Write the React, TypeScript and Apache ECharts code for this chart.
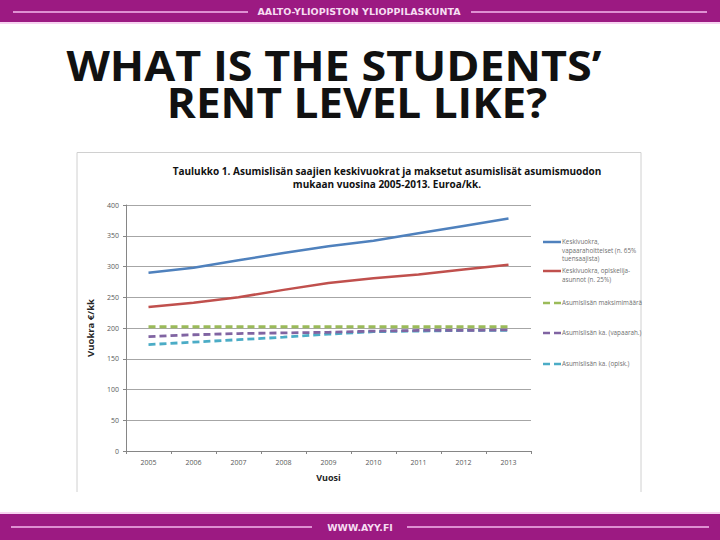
import React, { useEffect, useRef } from "react";
import * as echarts from "echarts";

const years = ["2005", "2006", "2007", "2008", "2009", "2010", "2011", "2012", "2013"];
const seriesNames = [
  "Keskivuokra, vapaarahoitteiset (n. 65% tuensaajista)",
  "Keskivuokra, opiskelija-asunnot (n. 25%)",
  "Asumislisän maksimimäärä",
  "Asumislisän ka. (vapaarah.)",
  "Asumislisän ka. (opisk.)",
];
const legendLabels = [
  "Keskivuokra,\nvapaarahoitteiset (n. 65%\ntuensaajista)",
  "Keskivuokra, opiskelija-\nasunnot (n. 25%)",
  "Asumislisän maksimimäärä",
  "Asumislisän ka. (vapaarah.)",
  "Asumislisän ka. (opisk.)",
];
const rentFree = [290, 298, 310, 322, 333, 342, 354, 366, 378];
const rentStudent = [234, 241, 250, 262, 273, 281, 287, 295, 303];
const maxAllowance = [202, 202, 202, 202, 202, 202, 202, 202, 202];
const avgAllowanceFree = [186, 189, 191, 192, 193, 195, 196, 196, 197];
const avgAllowanceStudent = [173, 177, 181, 185, 190, 194, 195, 196, 196];
const colors = ["#4F81BD", "#C0504D", "#9BBB59", "#8064A2", "#4BACC6"];
const dashed = [false, false, true, true, true];
const yTicks = { min: 0, max: 400, interval: 50 };

const PURPLE = "#9C1A82";
const PINK = "#F4B8EC";

export default function App() {
  const ref = useRef<HTMLDivElement>(null);
  useEffect(() => {
    if (!ref.current) return;
    const chart = echarts.init(ref.current, null, { renderer: "svg" });
    const values = [rentFree, rentStudent, maxAllowance, avgAllowanceFree, avgAllowanceStudent];
    const legendY = [242, 271, 303, 333, 364];
    const legendGraphics: any[] = [];
    legendLabels.forEach((label, i) => {
      const y = legendY[i];
      legendGraphics.push({
        type: "line",
        shape: { x1: 543, y1: y, x2: 561, y2: y },
        style: {
          stroke: colors[i],
          lineWidth: 2.5,
          lineDash: dashed[i] ? [7, 4] : null,
        },
      });
      legendGraphics.push({
        type: "text",
        x: 562,
        y: y - 4.5,
        style: {
          text: label,
          fill: "#6F6F6F",
          font: "6.3px 'Open Sans'",
          lineHeight: 8.5,
          textVerticalAlign: "top",
        },
      });
    });

    chart.setOption({
      animation: false,
      backgroundColor: "#ffffff",
      grid: { left: 126, right: 189, top: 205, bottom: 89, containLabel: false },
      xAxis: {
        type: "category",
        data: years,
        boundaryGap: true,
        name: "Vuosi",
        nameLocation: "middle",
        nameGap: 22,
        nameTextStyle: { fontFamily: "Open Sans", fontWeight: "bold", fontSize: 9, color: "#262626" },
        axisLine: { lineStyle: { color: "#868686", width: 1 } },
        axisTick: { show: true, length: 3, lineStyle: { color: "#868686" } },
        axisLabel: { fontFamily: "Open Sans", fontSize: 7, color: "#595959", margin: 8 },
      },
      yAxis: {
        type: "value",
        min: yTicks.min,
        max: yTicks.max,
        interval: yTicks.interval,
        name: "Vuokra €/kk",
        nameLocation: "middle",
        nameGap: 31,
        nameRotate: 90,
        nameTextStyle: { fontFamily: "Open Sans", fontWeight: "bold", fontSize: 9.5, color: "#262626" },
        axisLine: { show: true, lineStyle: { color: "#868686", width: 1 } },
        axisTick: { show: true, length: 3, lineStyle: { color: "#868686" } },
        axisLabel: { fontFamily: "Open Sans", fontSize: 7, color: "#595959", margin: 7 },
        splitLine: { lineStyle: { color: "#A6A6A6", width: 1 } },
      },
      series: seriesNames.map((name, i) => ({
        name,
        type: "line",
        data: values[i],
        symbol: "none",
        smooth: false,
        lineStyle: {
          color: colors[i],
          width: dashed[i] ? 2.8 : 2.5,
          type: dashed[i] ? [7, 4] : "solid",
        },
        itemStyle: { color: colors[i] },
        z: 10 - i,
      })),
      graphic: [
        // top banner
        { type: "rect", shape: { x: 0, y: 0, width: 720, height: 22 }, style: { fill: PURPLE } },
        { type: "rect", shape: { x: 0, y: 22, width: 720, height: 2 }, style: { fill: "#F7D3F1" } },
        { type: "line", shape: { x1: 13, y1: 12, x2: 248, y2: 12 }, style: { stroke: PINK, lineWidth: 1.5 } },
        { type: "line", shape: { x1: 471, y1: 12, x2: 707, y2: 12 }, style: { stroke: PINK, lineWidth: 1.5 } },
        {
          type: "text",
          x: 359,
          y: 12,
          scaleX: 1.06,
          style: {
            text: "AALTO-YLIOPISTON YLIOPPILASKUNTA",
            fill: "#F6DDF1",
            font: "bold 9px 'DejaVu Sans'",
            textAlign: "center",
            textVerticalAlign: "middle",
          },
        },
        // bottom banner
        { type: "rect", shape: { x: 0, y: 512, width: 720, height: 2 }, style: { fill: "#F7D3F1" } },
        { type: "rect", shape: { x: 0, y: 514, width: 720, height: 26 }, style: { fill: PURPLE } },
        { type: "line", shape: { x1: 11, y1: 527, x2: 312, y2: 527 }, style: { stroke: PINK, lineWidth: 1.5 } },
        { type: "line", shape: { x1: 407, y1: 527, x2: 709, y2: 527 }, style: { stroke: PINK, lineWidth: 1.5 } },
        {
          type: "text",
          x: 360,
          y: 528,
          scaleX: 1.04,
          style: {
            text: "WWW.AYY.FI",
            fill: "#F6DDF1",
            font: "bold 9px 'DejaVu Sans'",
            textAlign: "center",
            textVerticalAlign: "middle",
          },
        },
        // slide title
        {
          type: "text",
          x: 334,
          y: 65,
          scaleX: 1.07,
          style: {
            text: "WHAT IS THE STUDENTS’",
            fill: "#111111",
            font: "bold 42px 'Open Sans'",
            lineHeight: 36,
            textAlign: "center",
            textVerticalAlign: "middle",
          },
        },
        {
          type: "text",
          x: 357,
          y: 102,
          scaleX: 1.05,
          style: {
            text: "RENT LEVEL LIKE?",
            fill: "#111111",
            font: "bold 42px 'Open Sans'",
            lineHeight: 36,
            textAlign: "center",
            textVerticalAlign: "middle",
          },
        },
        // chart frame
        {
          type: "polyline",
          shape: { points: [[77, 492], [77, 152.5], [641, 152.5], [641, 492]] },
          style: { stroke: "#D0D0D0", lineWidth: 1, fill: null },
        },
        // chart title
        {
          type: "text",
          x: 387,
          y: 171,
          style: {
            text: "Taulukko 1. Asumislisän saajien keskivuokrat ja maksetut asumislisät asumismuodon",
            fill: "#111111",
            font: "bold 10px 'Open Sans'",
            textAlign: "center",
            textVerticalAlign: "middle",
          },
        },
        {
          type: "text",
          x: 387,
          y: 184,
          style: {
            text: "mukaan vuosina 2005-2013. Euroa/kk.",
            fill: "#111111",
            font: "bold 10px 'Open Sans'",
            textAlign: "center",
            textVerticalAlign: "middle",
          },
        },
        ...legendGraphics,
      ],
    });
    return () => chart.dispose();
  }, []);
  return (
    <div
      ref={ref}
      style={{ position: "fixed", left: 0, top: 0, width: 720, height: 540, background: "#fff" }}
    />
  );
}
